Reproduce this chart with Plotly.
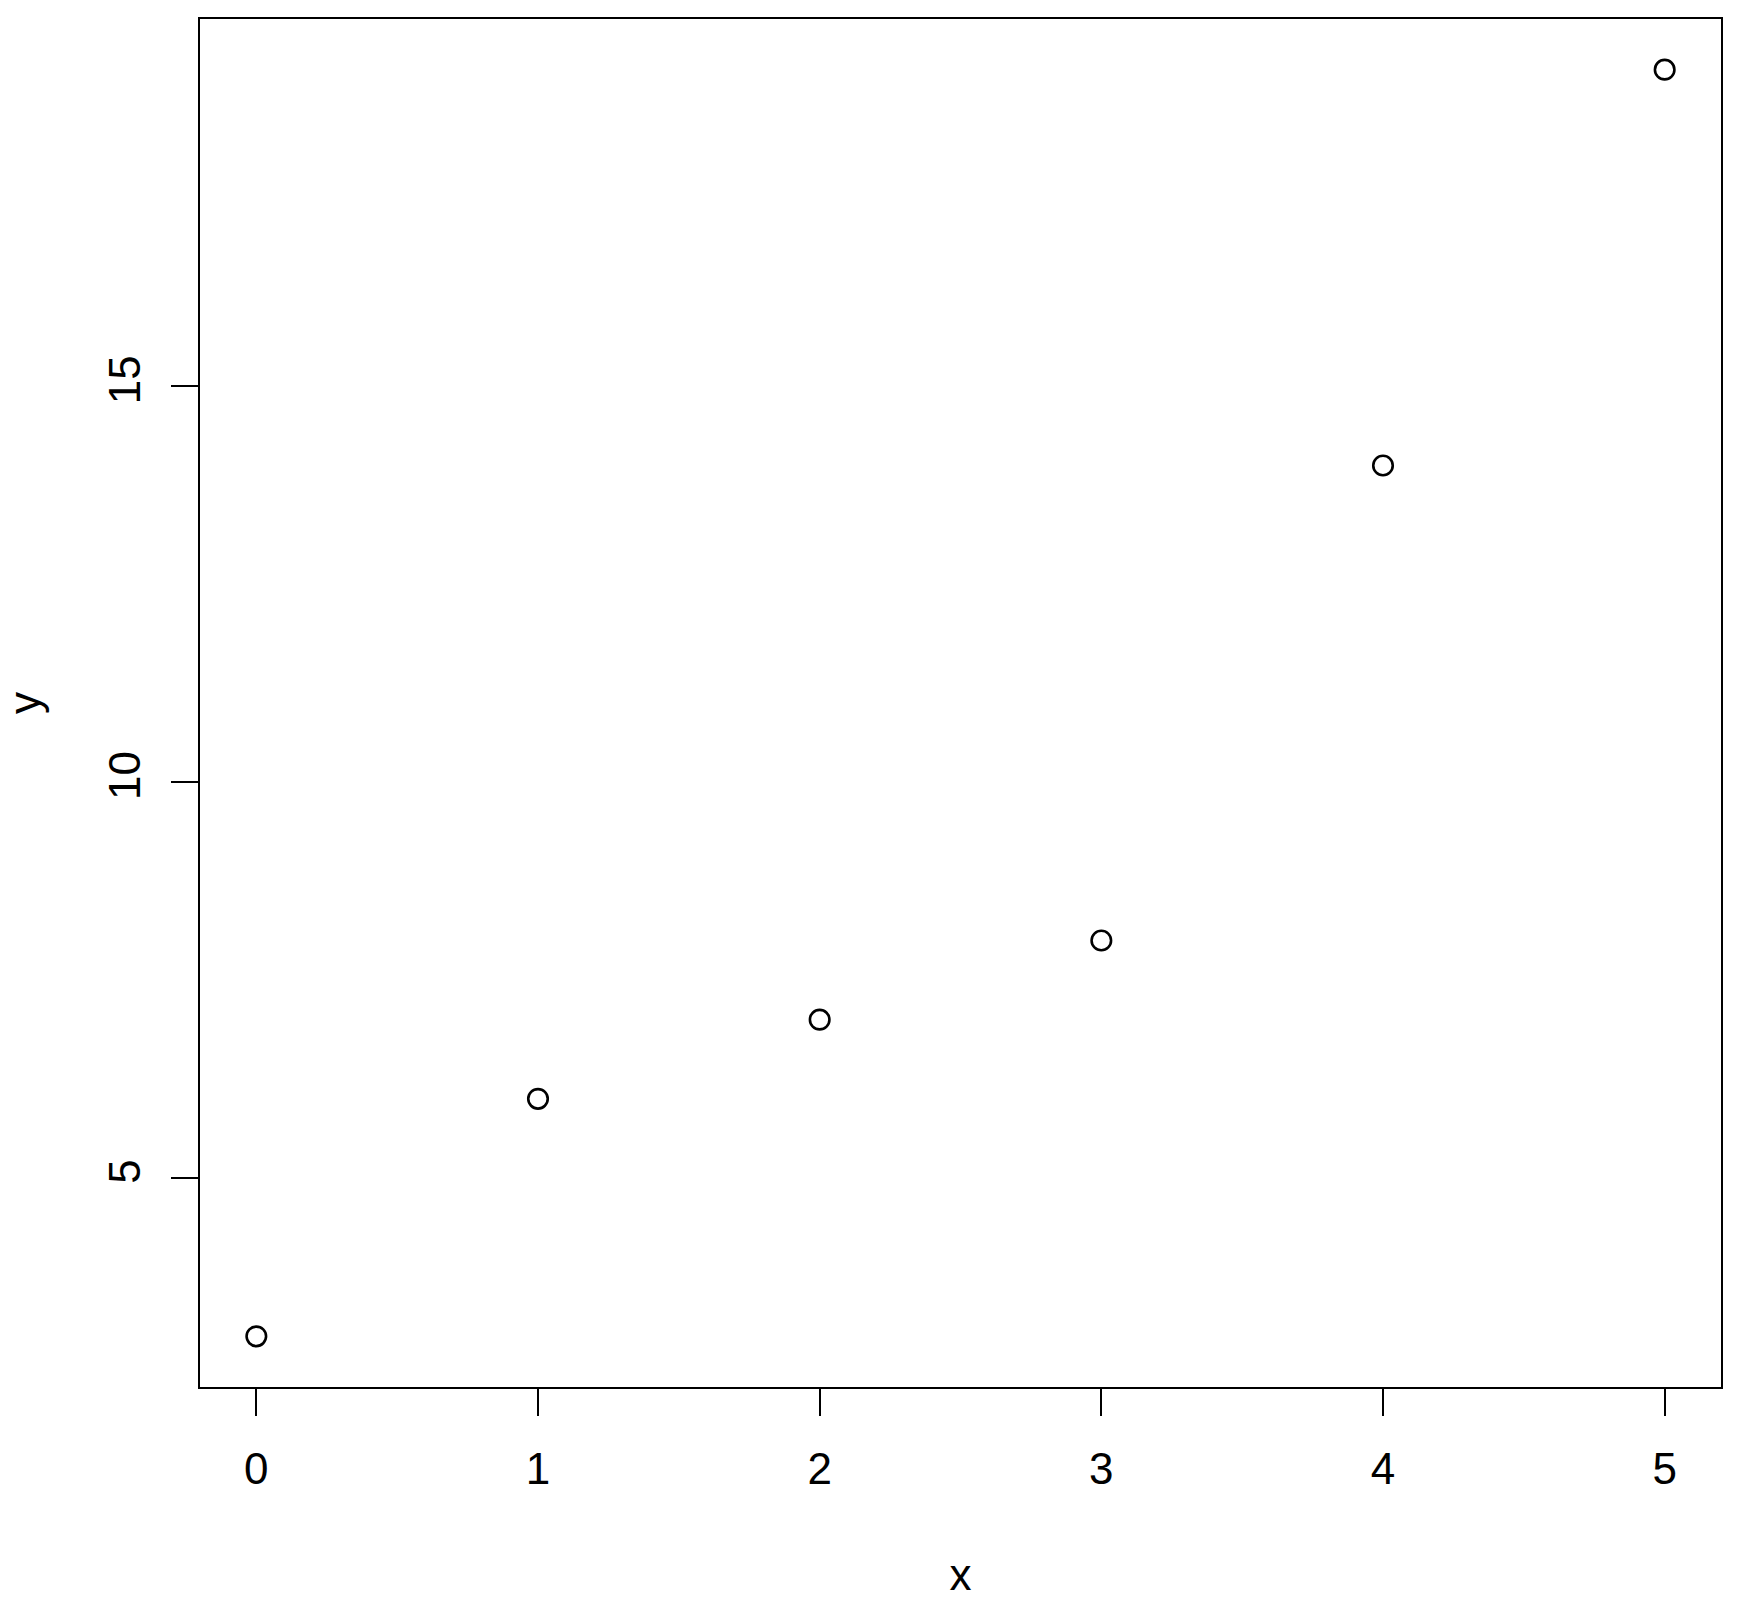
import plotly.graph_objects as go

# points
x_values = [0, 1, 2, 3, 4, 5]
y_values = [3, 6, 7, 8, 14, 19]

x_ticks = [0, 1, 2, 3, 4, 5]
y_ticks = [5, 10, 15]

font_family = "Liberation Sans, Arial, sans-serif"

fig = go.Figure()
fig.add_trace(go.Scatter(
    x=x_values, y=y_values,
    mode="markers",
    marker=dict(symbol="circle-open", size=19.5, color="black",
                line=dict(color="black", width=2.6)),
    showlegend=False,
    hoverinfo="x+y",
))

axis_common = dict(
    showgrid=False,
    zeroline=False,
    showline=True,
    linecolor="black",
    linewidth=2,
    mirror=True,
    ticks="outside",
    ticklen=27,
    tickwidth=2,
    tickcolor="black",
    tickfont=dict(family=font_family, size=44, color="black"),
)

fig.update_layout(
    width=1746,
    height=1606,
    margin=dict(l=200, r=25, t=19, b=219, autoexpand=False),
    paper_bgcolor="white",
    plot_bgcolor="white",
    font=dict(family=font_family, color="black"),
    xaxis=dict(
        axis_common,
        range=[-0.2, 5.2],
        tickmode="array",
        tickvals=x_ticks,
        ticktext=[str(v) for v in x_ticks],
        ticklabelstandoff=15,
        title=dict(text="x", font=dict(family=font_family, size=44), standoff=67),
    ),
    yaxis=dict(
        axis_common,
        range=[2.36, 19.64],
        tickmode="array",
        tickvals=y_ticks,
        ticktext=[str(v) for v in y_ticks],
        tickangle=-90,
        ticklabelstandoff=13,
        title=dict(text="y", font=dict(family=font_family, size=44), standoff=102),
    ),
)

# page body has a default 8px margin; drop it so the figure sits at 0,0
fig.write_html("out.html", config={"displayModeBar": False},
               post_script="document.body.style.margin='0';")
